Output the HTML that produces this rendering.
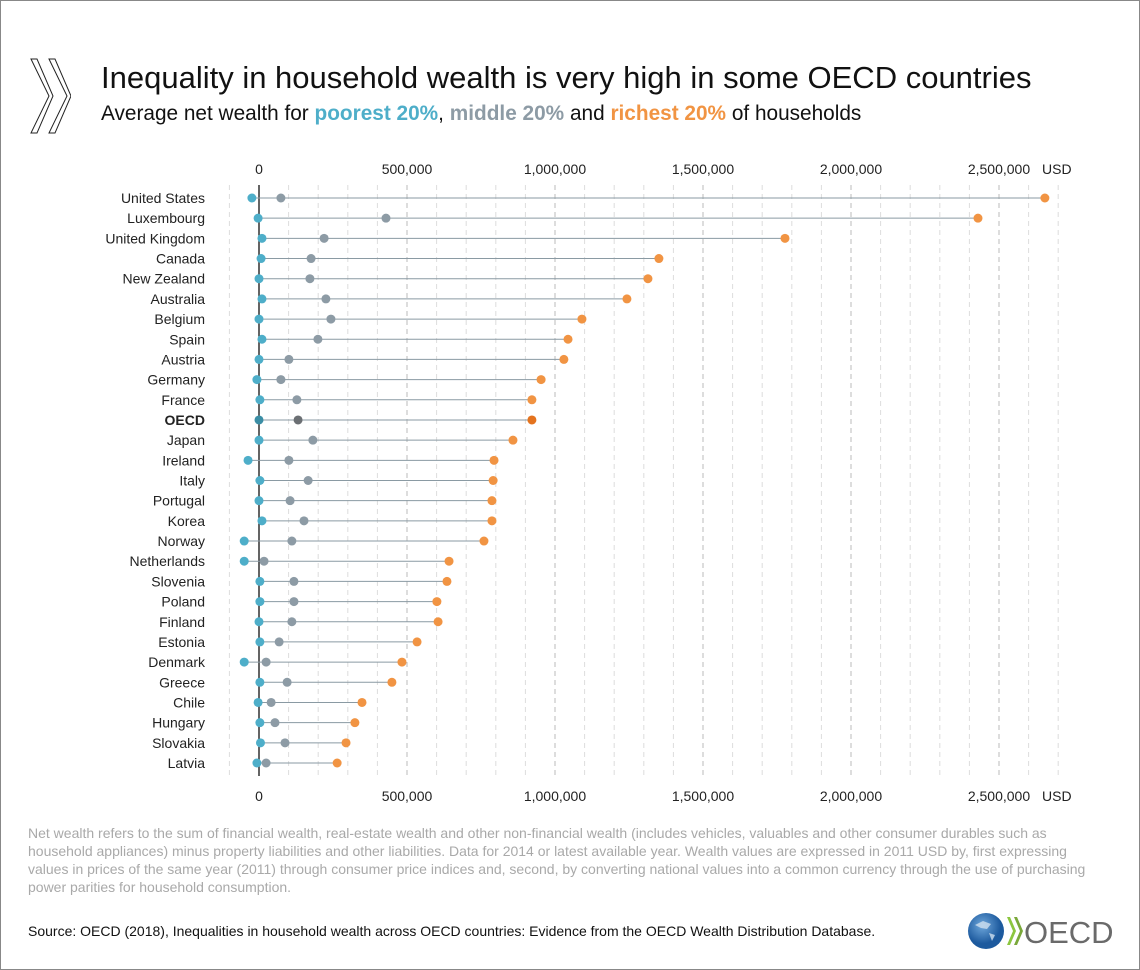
<!DOCTYPE html>
<html><head><meta charset="utf-8"><style>
body{margin:0;background:#fff;font-family:"Liberation Sans",Arial,sans-serif;}
#wrap{position:relative;width:1138px;height:968px;border:1px solid #888;background:#fff;overflow:hidden}
.t{position:absolute;white-space:nowrap}
</style></head><body>
<div id="wrap">
<svg class="t" style="left:28px;top:56px" width="42" height="78">
<path d="M2,2 L20,39 L2,76 L8,76 L24,39 L8,2 Z M20,2 L38,39 L20,76 L26,76 L42,39 L26,2 Z" fill="none" stroke="#222" stroke-width="1"/>
</svg>
<div class="t" style="left:100px;top:59px;font-size:31px;color:#111">Inequality in household wealth is very high in some OECD countries</div>
<div class="t" style="left:100px;top:101px;font-size:20.8px;color:#111">Average net wealth for <b style="color:#4eaec9">poorest 20%</b>, <b style="color:#8d9ba5">middle 20%</b> and <b style="color:#f19443">richest 20%</b> of households</div>
<svg id="chart" class="t" style="left:0;top:0" width="1138" height="820"></svg>
<div class="t" style="left:27px;top:823px;width:1075px;white-space:normal;font-size:14px;line-height:18px;color:#a9a9a9">Net wealth refers to the sum of financial wealth, real-estate wealth and other non-financial wealth (includes vehicles, valuables and other consumer durables such as household appliances) minus property liabilities and other liabilities. Data for 2014 or latest available year. Wealth values are expressed in 2011 USD by, first expressing values in prices of the same year (2011) through consumer price indices and, second, by converting national values into a common currency through the use of purchasing power parities for household consumption.</div>
<div class="t" style="left:27px;top:922px;font-size:14px;color:#111">Source: OECD (2018), Inequalities in household wealth across OECD countries: Evidence from the OECD Wealth Distribution Database.</div>
<div class="t" style="left:966px;top:910px">
<svg width="150" height="40"><defs><radialGradient id="g" cx="40%" cy="35%"><stop offset="0" stop-color="#6fa8dc"/><stop offset="1" stop-color="#1d5a9e"/></radialGradient></defs>
<circle cx="19" cy="20" r="18" fill="url(#g)"/><path d="M8,14 L16,10 L24,13 L20,18 L14,17 Z M22,22 L28,24 L25,30 Z" fill="#cfe0ef" opacity=".8"/>
<path d="M40,6 L46,20 L40,34 L43,34 L49,20 L43,6 Z" fill="#8cc63f"/><path d="M47,6 L53,20 L47,34 L50,34 L56,20 L50,6 Z" fill="#7aa83a"/>
<text x="57" y="32" font-size="31" fill="#6a6a6a" font-family="Liberation Sans, sans-serif">OECD</text></svg></div>
</div>
<script>
const countries=["United States","Luxembourg","United Kingdom","Canada","New Zealand","Australia","Belgium","Spain","Austria","Germany","France","OECD","Japan","Ireland","Italy","Portugal","Korea","Norway","Netherlands","Slovenia","Poland","Finland","Estonia","Denmark","Greece","Chile","Hungary","Slovakia","Latvia"];
const poorest=[-24000,-3000,10000,7000,0,10000,0,10000,0,-7000,3000,0,0,-37000,3000,0,10000,-50000,-50000,3000,3000,0,3000,-50000,3000,-3000,3000,5000,-7000];
const middle=[74000,429000,220000,176000,172000,226000,243000,199000,101000,74000,128000,132000,182000,101000,166000,105000,152000,111000,17000,118000,118000,111000,68000,24000,95000,41000,54000,88000,24000];
const richest=[2655000,2429000,1777000,1351000,1314000,1243000,1091000,1044000,1030000,953000,922000,922000,858000,794000,791000,787000,787000,760000,642000,635000,601000,605000,534000,483000,449000,348000,324000,294000,264000];
const ticks=[0,500000,1000000,1500000,2000000,2500000];
const tickLabels=["0","500,000","1,000,000","1,500,000","2,000,000","2,500,000"];
const NS="http://www.w3.org/2000/svg",svg=document.getElementById('chart');
const x=v=>258+v*0.000296;
const y=i=>197+i*(565/28);
function el(t,a,p){const e=document.createElementNS(NS,t);for(const k in a)e.setAttribute(k,a[k]);(p||svg).appendChild(e);return e;}
for(let v=-100000;v<=2700000;v+=100000){if(v===0)continue;
 const g=el('line',{x1:x(v),x2:x(v),y1:184,y2:775,stroke:v%500000===0?'#bbb':'#ddd','stroke-dasharray':'5,4','stroke-width':1});
 }
const ax=el('line',{x1:x(0),x2:x(0),y1:184,y2:775,stroke:'#111','stroke-width':1.3});

ticks.forEach((v,i)=>{[168,795].forEach(yy=>{const t=el('text',{x:x(v),y:yy+5,'text-anchor':'middle','font-size':14,fill:'#222'});t.textContent=tickLabels[i];
 });});
[168,795].forEach(yy=>{const t=el('text',{x:1041,y:yy+5,'font-size':14,fill:'#222'});t.textContent='USD';
 });
countries.forEach((c,i)=>{const yy=y(i),o=c==='OECD';
 const l=el('text',{x:204,y:yy+5,'text-anchor':'end','font-size':14,fill:'#222','font-weight':o?'bold':'normal'});l.textContent=c;
 
 const ln=el('line',{x1:x(Math.min(poorest[i],middle[i])),x2:x(richest[i]),y1:yy,y2:yy,stroke:'#8a9aa3','stroke-width':1});
 
 const d1=el('circle',{cx:x(poorest[i]),cy:yy,r:4.5,fill:o?'#3b8ea5':'#4eaec9'});
 
 const d2=el('circle',{cx:x(middle[i]),cy:yy,r:4.5,fill:o?'#6b6f73':'#8d9ba5'});
 
 const d3=el('circle',{cx:x(richest[i]),cy:yy,r:4.5,fill:o?'#e4731e':'#f19443'});
 
});
</script>
</body></html>
